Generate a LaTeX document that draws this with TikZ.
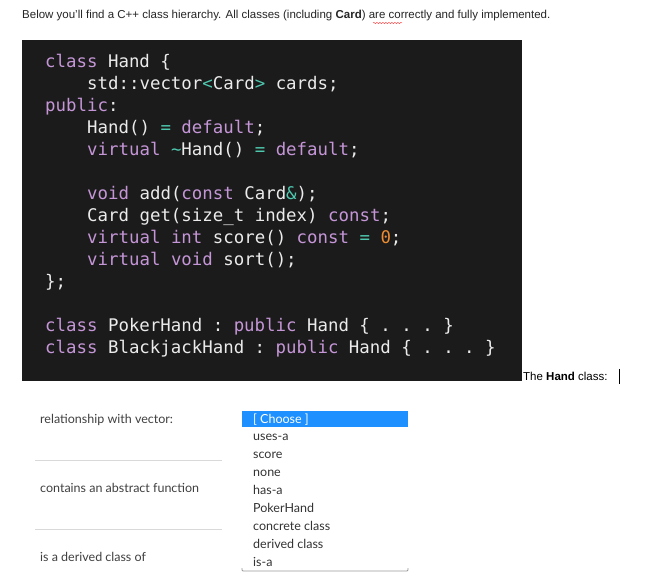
\documentclass[tikz,border=0pt]{standalone}
\usepackage{fontspec}
\setmainfont{Liberation Sans}
\setmonofont{DejaVu Sans Mono}
\newfontfamily\latofont{Lato}
\usetikzlibrary{decorations.pathmorphing}
\definecolor{kw}{RGB}{197,150,215}
\definecolor{tl}{RGB}{78,201,176}
\definecolor{nm}{RGB}{235,140,50}
\definecolor{fg}{RGB}{235,235,235}
\definecolor{codebg}{RGB}{27,27,27}
\definecolor{sel}{RGB}{30,144,255}
\newcommand{\K}[1]{\textcolor{kw}{#1}}
\newcommand{\T}[1]{\textcolor{tl}{#1}}
\newcommand{\N}[1]{\textcolor{nm}{#1}}
\begin{document}
\begin{tikzpicture}[x=1pt,y=-1pt,
  cl/.style={anchor=base west,inner sep=0pt,font=\ttfamily\fontsize{17.4}{20}\selectfont,text=fg},
  lab/.style={anchor=base west,inner sep=0pt,font=\latofont\fontsize{12.5}{14}\selectfont,text=black!75},
  opt/.style={anchor=base west,inner sep=0pt,font=\latofont\fontsize{12.5}{14}\selectfont,text=black!80},
  sep/.style={draw=black!15,line width=1pt}]
\useasboundingbox (0,0) rectangle (654,588);
\fill[white] (0,0) rectangle (654,588);
\node[anchor=base west,inner sep=0pt,font=\fontsize{11.5}{13}\selectfont,text=black!85] (intro) at (22,19)
 {Below you'll find a C++ class hierarchy. All classes (including \textbf{Card}) are correctly and fully implemented.};
\draw[red!80,decorate,decoration={snake,amplitude=0.6pt,segment length=3pt}] (373,23) -- (402,23);
\fill[codebg] (22,40) rectangle (522,381);
\node[cl] (l1) at (45,68) {\K{class} Hand \{};
\node[cl] (l2) at (87,90) {std::vector\T{<}Card\T{>} cards;};
\node[cl] (l3) at (45,112) {\K{public}:};
\node[cl] (l4) at (87,134) {Hand() \T{=} \K{default};};
\node[cl] (l5) at (87,156) {\K{virtual} \T{\char`\~}Hand() \T{=} \K{default};};
\node[cl] (l6) at (87,200) {\K{void} add(\K{const} Card\T{\&});};
\node[cl] (l7) at (87,222) {Card get(size\_t index) \K{const};};
\node[cl] (l8) at (87,244) {\K{virtual} \K{int} score() \K{const} \T{=} \N{0};};
\node[cl] (l9) at (87,266) {\K{virtual} \K{void} sort();};
\node[cl] (l10) at (45,288) {\};};
\node[cl] (l11) at (45,332) {\K{class} PokerHand : \K{public} Hand \{ . . . \}};
\node[cl] (l12) at (45,354) {\K{class} BlackjackHand : \K{public} Hand \{ . . . \}};
\node[anchor=base west,inner sep=0pt,font=\fontsize{11.5}{13}\selectfont,text=black] (hc) at (523,381) {The \textbf{Hand} class:};
\draw[black] (619,369) -- (619,384);
\node[lab] (q1) at (40,423) {relationship with vector:};
\node[lab] (q2) at (40,492) {contains an abstract function};
\node[lab] (q3) at (40,561) {is a derived class of};
\draw[sep] (35,460) -- (222,460);
\draw[sep] (35,529) -- (222,529);
\fill[sel] (242,411) rectangle (408,427);
\node[opt,text=white] (o0) at (253,423) {[ Choose ]};
\node[opt] (o1) at (253,440) {uses-a};
\node[opt] (o2) at (253,458) {score};
\node[opt] (o3) at (253,476) {none};
\node[opt] (o4) at (253,494) {has-a};
\node[opt] (o5) at (253,512) {PokerHand};
\node[opt] (o6) at (253,530) {concrete class};
\node[opt] (o7) at (253,548) {derived class};
\node[opt] (o8) at (253,566) {is-a};
\draw[black!40,line width=0.8pt,rounded corners=1pt] (242,568) -- (242,571) -- (408,571) -- (408,568);
\end{tikzpicture}
\end{document}
